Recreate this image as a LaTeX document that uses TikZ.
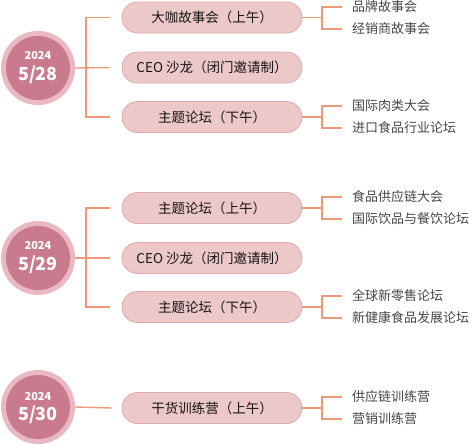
\documentclass[tikz,border=0pt]{standalone}
\usepackage{fontspec}
\setmainfont{Noto Sans CJK SC}
\definecolor{ringc}{RGB}{234,184,194}
\definecolor{innerc}{RGB}{201,122,142}
\definecolor{pillc}{RGB}{237,200,201}
\definecolor{pilld}{RGB}{223,170,174}
\definecolor{connc}{RGB}{240,152,122}
\definecolor{subc}{RGB}{70,70,70}
\definecolor{mainc}{RGB}{20,20,20}
\tikzset{
  ring/.style={circle,fill=ringc,minimum size=74pt,inner sep=0pt},
  core/.style={circle,fill=innerc,minimum size=64pt,inner sep=0pt},
  yeartxt/.style={text=white,font=\fontsize{11}{13}\selectfont\bfseries,inner sep=0pt},
  datetxt/.style={text=white,font=\fontsize{18}{20}\selectfont\bfseries,inner sep=0pt},
  pill/.style={rectangle,rounded corners=15.5pt,fill=pillc,draw=pilld,line width=0.8pt,minimum width=180pt,minimum height=31pt,inner sep=0pt,text=mainc,font=\fontsize{13.5}{15}\selectfont},
  subtxt/.style={anchor=west,inner sep=0pt,text=subc,font=\fontsize{13}{15}\selectfont},
  conn/.style={draw=connc,line width=1.4pt}
}
\begin{document}
\begin{tikzpicture}[x=1pt,y=-1pt]
\useasboundingbox (0,0) rectangle (474,445);
% ---------- Day 1 ----------
\node[ring] (c1) at (38,68) {};
\node[core] (k1) at (38,68) {};
\node[yeartxt] (y1) at (38,56) {2024};
\node[datetxt] (d1) at (38,75) {5/28};
\node[pill] (p11) at (212,17.5) {大咖故事会（上午）};
\node[pill] (p12) at (212,67.5) {CEO 沙龙（闭门邀请制）};
\node[pill] (p13) at (212,117) {主题论坛（下午）};
\coordinate (b1) at (86,68);
\draw[conn] (c1.east) -- ([xshift=-12pt]p12.west);
\draw[conn] ([xshift=-12pt]p11.west) -| (b1) |- ([xshift=-12pt]p13.west);
\node[subtxt] (s111) at (352,7) {品牌故事会};
\node[subtxt] (s112) at (352,29) {经销商故事会};
\node[subtxt] (s131) at (352,106) {国际肉类大会};
\node[subtxt] (s132) at (352,128) {进口食品行业论坛};
\coordinate (r11) at (322,17.5);
\coordinate (r13) at (322,117);
\draw[conn] (p11.east) -- (r11);
\draw[conn] ([xshift=-10pt]s111.west) -| (r11) |- ([xshift=-10pt]s112.west);
\draw[conn] (p13.east) -- (r13);
\draw[conn] ([xshift=-10pt]s131.west) -| (r13) |- ([xshift=-10pt]s132.west);
% ---------- Day 2 ----------
\node[ring] (c2) at (38,258) {};
\node[core] (k2) at (38,258) {};
\node[yeartxt] (y2) at (38,246) {2024};
\node[datetxt] (d2) at (38,265) {5/29};
\node[pill] (p21) at (212,208) {主题论坛（上午）};
\node[pill] (p22) at (212,258) {CEO 沙龙（闭门邀请制）};
\node[pill] (p23) at (212,307) {主题论坛（下午）};
\coordinate (b2) at (86,258);
\draw[conn] (c2.east) -- ([xshift=-12pt]p22.west);
\draw[conn] ([xshift=-12pt]p21.west) -| (b2) |- ([xshift=-12pt]p23.west);
\node[subtxt] (s211) at (352,197) {食品供应链大会};
\node[subtxt] (s212) at (352,219) {国际饮品与餐饮论坛};
\node[subtxt] (s231) at (352,296) {全球新零售论坛};
\node[subtxt] (s232) at (352,318) {新健康食品发展论坛};
\coordinate (r21) at (322,208);
\coordinate (r23) at (322,307);
\draw[conn] (p21.east) -- (r21);
\draw[conn] ([xshift=-10pt]s211.west) -| (r21) |- ([xshift=-10pt]s212.west);
\draw[conn] (p23.east) -- (r23);
\draw[conn] ([xshift=-10pt]s231.west) -| (r23) |- ([xshift=-10pt]s232.west);
% ---------- Day 3 ----------
\node[ring] (c3) at (38,407) {};
\node[core] (k3) at (38,407) {};
\node[yeartxt] (y3) at (38,396) {2024};
\node[datetxt] (d3) at (38,415) {5/30};
\node[pill] (p31) at (212,408) {干货训练营（上午）};
\coordinate (a3) at (112,408);
\draw[conn] (c3.east) -- (a3);
\node[subtxt] (s311) at (352,397) {供应链训练营};
\node[subtxt] (s312) at (352,419) {营销训练营};
\coordinate (r31) at (322,408);
\draw[conn] (p31.east) -- (r31);
\draw[conn] ([xshift=-10pt]s311.west) -| (r31) |- ([xshift=-10pt]s312.west);
\end{tikzpicture}
\end{document}
